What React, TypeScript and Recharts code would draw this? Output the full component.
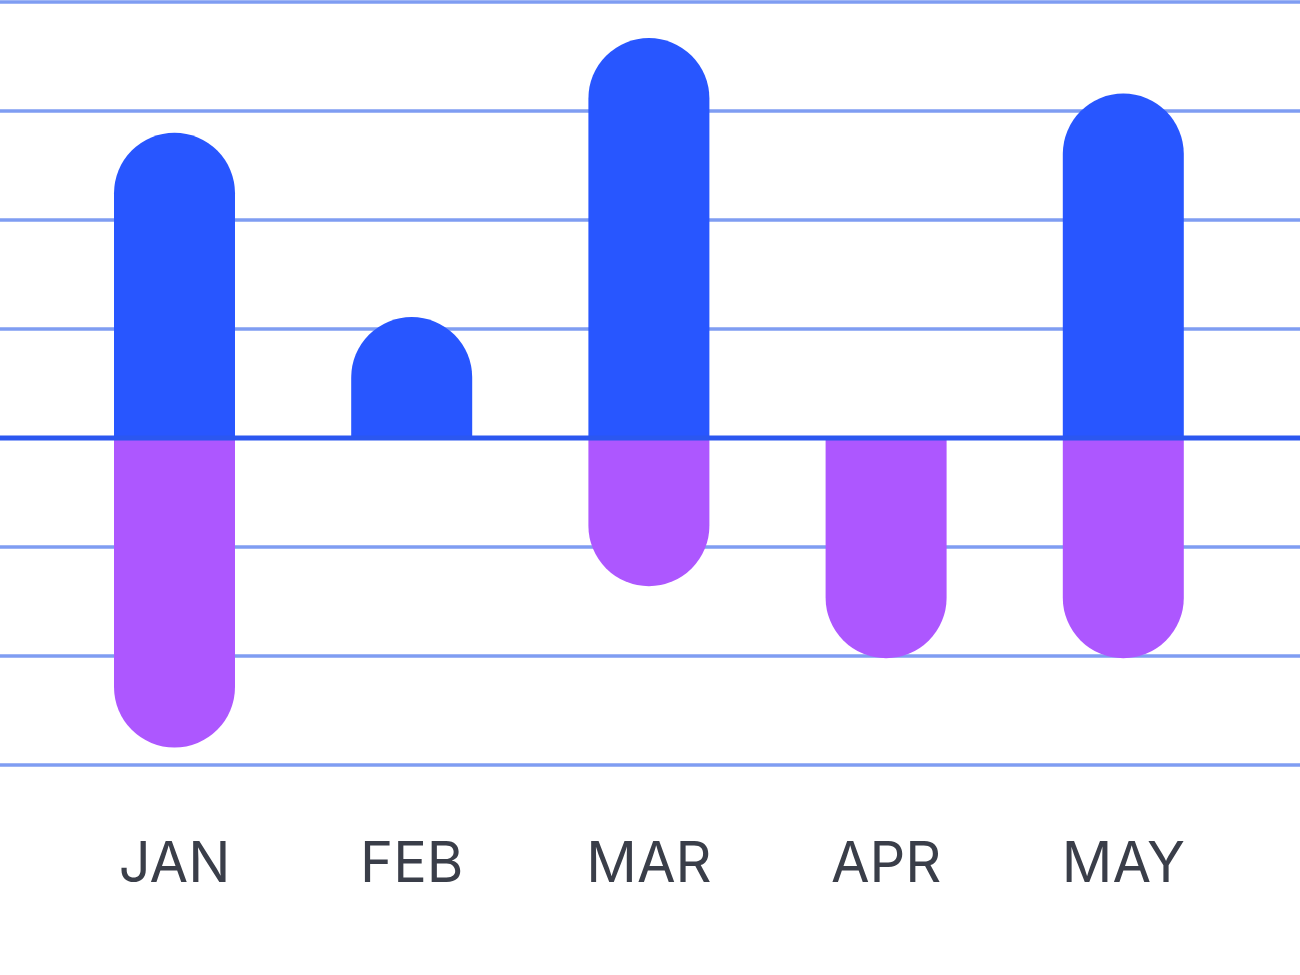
import React from 'react';
import { BarChart, Bar, XAxis, YAxis, CartesianGrid, ReferenceLine } from 'recharts';

const months = ['JAN', 'FEB', 'MAR', 'APR', 'MAY'];
const upValues = [2.8, 1.11, 3.67, 0, 3.16];
const downValues = [-2.84, 0, -1.36, -2.02, -2.02];
const yTicks = [-3, -2, -1, 0, 1, 2, 3, 4];

const data = months.map((m, i) => ({ month: m, up: upValues[i], down: downValues[i] }));

const BLUE = '#2856ff';
const PURPLE = '#ad57ff';

function PillBar(props: any) {
  const { x, y, width, height, fill, roundEnd } = props;
  if (!height || Math.abs(height) < 0.5) return null;
  const top = Math.min(y, y + height);
  const h = Math.abs(height);
  const r = Math.min(width / 2, h);
  const left = x;
  const right = x + width;
  const bottom = top + h;
  let d: string;
  if (roundEnd === 'top') {
    d = `M${left},${bottom} L${left},${top + r} A${r},${r} 0 0 1 ${right},${top + r} L${right},${bottom} Z`;
  } else {
    d = `M${left},${top} L${right},${top} L${right},${bottom - r} A${r},${r} 0 0 1 ${left},${bottom - r} Z`;
  }
  return <path d={d} fill={fill} />;
}

export default function App() {
  return (
    <div style={{ position: 'absolute', left: 0, top: 0, width: 1300, height: 975, background: '#ffffff' }}>
      <BarChart
        width={1300}
        height={975}
        data={data}
        stackOffset="sign"
        margin={{ top: 2, right: 0, bottom: 90, left: 0 }}
        barCategoryGap={0}
      >
        <CartesianGrid horizontal vertical={false} stroke="#7f9df2" strokeWidth={3.5} />
        <XAxis
          dataKey="month"
          height={120}
          axisLine={false}
          tickLine={false}
          tickSize={0}
          tickMargin={77}
          padding={{ left: 56, right: 58 }}
          tick={{ fill: '#3a3e49', fontSize: 56, fontFamily: 'Inter, "Liberation Sans", sans-serif' }}
          interval={0}
        />
        <YAxis hide domain={[-3, 4]} ticks={yTicks} type="number" allowDataOverflow />
        <Bar
          dataKey="up"
          stackId="s"
          fill={BLUE}
          barSize={121}
          isAnimationActive={false}
          shape={(p: any) => <PillBar {...p} roundEnd="top" />}
        />
        <Bar
          dataKey="down"
          stackId="s"
          fill={PURPLE}
          barSize={121}
          isAnimationActive={false}
          shape={(p: any) => <PillBar {...p} roundEnd="bottom" />}
        />
        <ReferenceLine y={0} stroke="#2b57f0" strokeWidth={5} />
      </BarChart>
    </div>
  );
}
